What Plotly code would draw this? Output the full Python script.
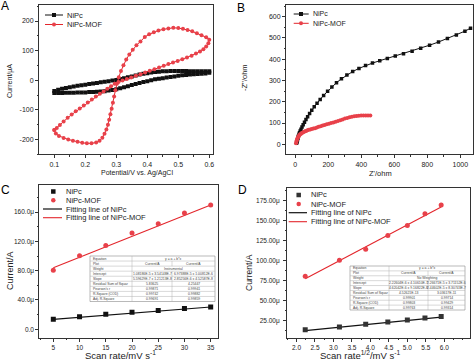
import plotly.graph_objects as go

W, H = 474, 361
FONT = "Liberation Sans, Arial, sans-serif"
INK = "#222222"
BLACK = "#111111"
RED = "#e3262c"
RED_M = "#e8414a"
GRAY_M = "#333333"

# ---------------- Panel A: cyclic voltammograms (V vs Ag/AgCl, uA) ----------------
cv_nipc_v = [0.1000, 0.1125, 0.1250, 0.1375, 0.1500, 0.1625, 0.1750, 0.1875, 0.2000, 0.2125,
             0.2250, 0.2375, 0.2500, 0.2625, 0.2750, 0.2875, 0.3000, 0.3125, 0.3250, 0.3375,
             0.3500, 0.3625, 0.3750, 0.3875, 0.4000, 0.4125, 0.4250, 0.4375, 0.4500, 0.4625,
             0.4750, 0.4875, 0.5000, 0.5125, 0.5250, 0.5375, 0.5500, 0.5625, 0.5750, 0.5875,
             0.6000,
             0.6000, 0.5875, 0.5750, 0.5625, 0.5500, 0.5375, 0.5250, 0.5125, 0.5000, 0.4875,
             0.4750, 0.4625, 0.4500, 0.4375, 0.4250, 0.4125, 0.4000, 0.3875, 0.3750, 0.3625,
             0.3500, 0.3375, 0.3250, 0.3125, 0.3000, 0.2875, 0.2750, 0.2625, 0.2500, 0.2375,
             0.2250, 0.2125, 0.2000, 0.1875, 0.1750, 0.1625, 0.1500, 0.1375, 0.1250, 0.1125,
             0.1000]
cv_nipc_i = [-36, -32, -29, -26, -24, -21, -19, -17, -15, -13,
             -11, -9, -7, -5, -3, -1, 1, 4, 7, 10,
             13, 16, 19, 22, 24, 26, 28, 29, 30, 30,
             31, 31, 31, 31, 31, 30, 30, 30, 30, 30,
             30,
             25, 23, 22, 21, 20, 19, 18, 17, 15, 13,
             11, 9, 7, 5, 3, 0, -3, -6, -9, -13,
             -16, -20, -24, -27, -30, -33, -35, -37, -38, -39,
             -40, -40, -41, -41, -41, -42, -42, -42, -43, -43,
             -43]

cv_mof_v = [0.100, 0.105, 0.115, 0.130, 0.145, 0.160, 0.175, 0.190, 0.205, 0.220,
            0.235, 0.246, 0.255, 0.262, 0.268, 0.273, 0.277, 0.281, 0.285, 0.289,
            0.293, 0.297, 0.302, 0.308, 0.315, 0.323, 0.332, 0.342, 0.353, 0.365,
            0.378, 0.392, 0.406, 0.421, 0.436, 0.452, 0.468, 0.484, 0.500, 0.515,
            0.530, 0.545, 0.560, 0.575, 0.590, 0.600,
            0.597, 0.590, 0.581, 0.570, 0.557, 0.543, 0.528, 0.513, 0.498, 0.483,
            0.468, 0.453, 0.438, 0.423, 0.408, 0.393, 0.378, 0.363, 0.348, 0.334,
            0.320, 0.307, 0.295, 0.283, 0.271, 0.259, 0.247, 0.234, 0.221, 0.208,
            0.195, 0.182, 0.169, 0.156, 0.143, 0.130, 0.118, 0.108, 0.100]
cv_mof_i = [-168, -180, -188, -195, -200, -204, -208, -211, -213, -213,
            -210, -204, -194, -181, -166, -150, -133, -115, -96, -76,
            -55, -34, -12, 10, 31, 51, 70, 87, 103, 118,
            131, 146, 155, 162, 168, 172, 175, 177, 176, 174,
            170, 165, 159, 152, 145, 137,
            125, 114, 105, 97, 90, 83, 77, 71, 65, 60,
            55, 49, 43, 37, 32, 26, 20, 15, 9, 4,
            -1, -6, -12, -20, -29, -38, -46, -55, -65, -75,
            -85, -95, -105, -116, -127, -139, -151, -161, -168]

# ---------------- Panel B: Nyquist plots (ohm) ----------------
eis_nipc_zre = [8, 10, 12, 14, 16, 18, 20, 23, 26, 30, 35, 41, 48, 56, 65, 75, 87, 100, 115, 132,
                151, 172, 196, 222, 250, 280, 313, 348, 386, 426, 468, 512, 558, 606, 656, 708,
                760, 814, 868, 922, 976, 1028, 1062]
eis_nipc_zim = [5, 10, 16, 22, 28, 34, 40, 47, 54, 62, 71, 81, 92, 104, 117, 130, 145, 160, 176, 193,
                211, 230, 250, 270, 290, 308, 326, 342, 357, 370, 382, 393, 404, 415, 426, 438,
                452, 466, 481, 497, 514, 532, 546]
eis_mof_zre = [5, 7, 9, 11, 13, 16, 19, 22, 26, 30, 35, 40, 46, 52, 59, 66, 74, 82, 91, 100,
               110, 120, 131, 142, 154, 166, 178, 191, 204, 217, 231, 245, 259, 273, 287, 301,
               315, 329, 343, 357, 371, 385, 399, 413, 427, 441, 455]
eis_mof_zim = [5, 12, 18, 23, 27, 32, 36, 40, 44, 47, 50, 53, 56, 58, 61, 63, 66, 68, 70, 72,
               74, 76, 79, 82, 85, 88, 91, 94, 97, 100, 103, 106, 109, 113, 117, 121,
               124, 127, 130, 132, 133, 134, 135, 135, 136, 136, 136]

# ---------------- Panels C, D: peak current vs scan rate (uA) ----------------
scan_rate = [5, 10, 15, 20, 25, 30, 35]
sqrt_scan_rate = [2.236, 3.162, 3.873, 4.472, 5.000, 5.477, 5.916]
cur_nipc = [13.6, 17.0, 20.6, 23.3, 25.8, 28.3, 30.4]
cur_mof = [80.5, 100.5, 114.3, 131.5, 144.0, 158.8, 169.8]

fitC_intercept = [10.8186, 69.7388]
fitC_slope = [0.559629, 2.85256]
fitD_intercept = [2.22604, 22.6671]
fitD_slope = [4.62042, 24.4602]

# tick labels
A_xticks = [0.1, 0.2, 0.3, 0.4, 0.5, 0.6]
A_xtext = ["0.1", "0.2", "0.3", "0.4", "0.5", "0.6"]
A_yticks = [-200, -100, 0, 100, 200]
A_ytext = ["-200", "-100", "0", "100", "200"]
B_xticks = [0, 200, 400, 600, 800, 1000]
B_yticks = [0, 100, 200, 300, 400, 500, 600]
C_xticks = [5, 10, 15, 20, 25, 30, 35]
C_yticks = [0, 40, 80, 120, 160]
C_ytext = ["0.0", "40.0μ", "80.0μ", "120.0μ", "160.0μ"]
D_xticks = [2.0, 2.5, 3.0, 3.5, 4.0, 4.5, 5.0, 5.5, 6.0]
D_xtext = ["2.0", "2.5", "3.0", "3.5", "4.0", "4.5", "5.0", "5.5", "6.0"]
D_yticks = [25, 50, 75, 100, 125, 150, 175]
D_ytext = ["25.00μ", "50.00μ", "75.00μ", "100.00μ", "125.00μ", "150.00μ", "175.00μ"]

# inset tables
table_rows = ["Equation", "Plot", "Weight", "Intercept", "Slope", "Residual Sum of Squar",
              "Pearson's r", "R-Square (COD)", "Adj. R-Square"]
tableC_col2 = ["y = a + b*x", "Current/A", "Instrumental", "1.08186E-5 ± 3.54148E-7",
               "5.59629E-7 ± 1.21213E-8", "5.83625", "0.99871", "0.99742", "0.99691"]
tableC_col3 = ["", "Current/A", "", "6.97388E-5 ± 1.00812E-6",
               "2.85256E-6 ± 4.52587E-8", "4.25447", "0.99941", "0.99882", "0.99859"]
tableD_col2 = ["y = a + b*x", "Current/A", "No Weighting", "2.22604E-6 ± 4.10610E-7",
               "4.62042E-6 ± 9.16822E-8", "4.52621E-13", "0.99901", "0.99803", "0.99763"]
tableD_col3 = ["", "Current/A", "", "2.26671E-5 ± 3.71152E-6",
               "2.44602E-5 ± 8.30743E-7", "3.03617E-11", "0.99714", "0.99429", "0.99314"]


def px(x):
    return x / W


def py(y):
    return 1 - y / H


fig = go.Figure()

# Panel A
fig.add_trace(go.Scatter(x=cv_nipc_v, y=cv_nipc_i, mode="lines+markers", name="NiPc",
                         line=dict(color=BLACK, width=1),
                         marker=dict(symbol="square", size=4, color=BLACK),
                         xaxis="x", yaxis="y", showlegend=False))
fig.add_trace(go.Scatter(x=cv_mof_v, y=cv_mof_i, mode="lines+markers", name="NiPc-MOF",
                         line=dict(color=RED, width=1),
                         marker=dict(symbol="circle", size=4, color=RED_M),
                         xaxis="x", yaxis="y", showlegend=False))
# Panel B
fig.add_trace(go.Scatter(x=eis_nipc_zre, y=eis_nipc_zim, mode="lines+markers", name="NiPc",
                         line=dict(color=BLACK, width=1),
                         marker=dict(symbol="square", size=3.5, color=BLACK),
                         xaxis="x2", yaxis="y2", showlegend=False))
fig.add_trace(go.Scatter(x=eis_mof_zre, y=eis_mof_zim, mode="lines+markers", name="NiPc-MOF",
                         line=dict(color=RED, width=1),
                         marker=dict(symbol="circle", size=4, color=RED_M),
                         xaxis="x2", yaxis="y2", showlegend=False))

# Panels C and D
for (xs, ints, slopes, xa, ya, kcol) in [(scan_rate, fitC_intercept, fitC_slope, "x3", "y3", BLACK),
                                          (sqrt_scan_rate, fitD_intercept, fitD_slope, "x4", "y4", GRAY_M)]:
    fit_n = [ints[0] + slopes[0] * v for v in xs]
    fit_m = [ints[1] + slopes[1] * v for v in xs]
    fig.add_trace(go.Scatter(x=xs, y=fit_n, mode="lines", name="Fitting line of NiPc",
                             line=dict(color=BLACK, width=1.2), xaxis=xa, yaxis=ya, showlegend=False))
    fig.add_trace(go.Scatter(x=xs, y=fit_m, mode="lines", name="Fitting line of NiPc-MOF",
                             line=dict(color=RED, width=1.1), xaxis=xa, yaxis=ya, showlegend=False))
    fig.add_trace(go.Scatter(x=xs, y=cur_nipc, mode="markers", name="NiPc",
                             marker=dict(symbol="square", size=5, color=kcol),
                             xaxis=xa, yaxis=ya, showlegend=False))
    fig.add_trace(go.Scatter(x=xs, y=cur_mof, mode="markers", name="NiPc-MOF",
                             marker=dict(symbol="circle", size=5, color=RED_M),
                             xaxis=xa, yaxis=ya, showlegend=False))


def axis(domain, rng, tickvals, ticktext, minor_dtick, minor_tick0, fsize, anchor, standoff=0):
    return dict(domain=domain, range=rng, anchor=anchor, tickmode="array", tickvals=tickvals,
                ticktext=ticktext, showline=True, linecolor="#333333", linewidth=1, mirror=True,
                ticks="outside", ticklen=3, tickwidth=1, tickcolor="#333333", showgrid=False,
                zeroline=False, fixedrange=True, ticklabelstandoff=standoff,
                tickfont=dict(family=FONT, size=fsize, color=INK),
                minor=dict(ticks="outside", ticklen=1.5, tickwidth=1, tickcolor="#333333",
                           tickmode="linear", tick0=minor_tick0, dtick=minor_dtick))


domA_x = [px(39), px(213)]
domB_x = [px(286), px(473)]
domAB_y = [py(154.3), py(5)]
domC_x = [px(39.3), px(218.3)]
domD_x = [px(287), px(470)]
domC_y = [py(337.7), py(185)]
domD_y = [py(337.7), py(188)]

fig.update_layout(
    width=W, height=H, margin=dict(l=0, r=0, t=0, b=0),
    paper_bgcolor="white", plot_bgcolor="white",
    font=dict(family=FONT, color=INK),
    showlegend=False,
    xaxis=axis(domA_x, [0.0506, 0.612], A_xticks, A_xtext, 0.05, 0.05, 7, "y"),
    yaxis=axis(domAB_y, [-250, 254], A_yticks, A_ytext, 50, -250, 7, "x"),
    xaxis2=axis(domB_x, [-56, 1077], B_xticks, [str(v) for v in B_xticks], 100, 0, 7, "y2"),
    yaxis2=axis(domAB_y, [-47, 655], B_yticks, [str(v) for v in B_yticks], 50, 0, 7, "x2"),
    xaxis3=axis(domC_x, [2.33, 36.45], C_xticks, [str(v) for v in C_xticks], 2.5, 2.5, 6.5, "y3"),
    yaxis3=axis(domC_y, [-11.5, 197], C_yticks, C_ytext, 20, 0, 6.5, "x3"),
    xaxis4=axis(domD_x, [1.743, 6.696], D_xticks, D_xtext, 0.25, 2.0, 6.5, "y4"),
    yaxis4=axis(domD_y, [3.75, 191], D_yticks, D_ytext, 12.5, 0, 6.5, "x4", standoff=2),
)

shapes = []
annotations = []


def text(x, y, s, size, anchor="center", angle=0, color=INK):
    annotations.append(dict(x=px(x), y=py(y), xref="paper", yref="paper", text=s, showarrow=False,
                            xanchor=anchor, yanchor="middle", textangle=angle,
                            font=dict(family=FONT, size=size, color=color)))


def hline(x0, x1, y, color, width):
    shapes.append(dict(type="line", xref="paper", yref="paper", x0=px(x0), x1=px(x1),
                       y0=py(y), y1=py(y), line=dict(color=color, width=width)))


def vline(x, y0, y1, color, width):
    shapes.append(dict(type="line", xref="paper", yref="paper", x0=px(x), x1=px(x),
                       y0=py(y0), y1=py(y1), line=dict(color=color, width=width)))


def marker(cx, cy, s, kind, color):
    shapes.append(dict(type="rect" if kind == "square" else "circle", xref="paper", yref="paper",
                       x0=px(cx - s / 2), x1=px(cx + s / 2), y0=py(cy + s / 2), y1=py(cy - s / 2),
                       fillcolor=color, line=dict(width=0)))


# Legends (drawn manually to match the compact originals)
for (lx0, lx1, mx, tx, rows, fs) in [(45, 63, 54, 65, (15, 24.5), 7.5), (293.7, 308.7, 301, 311, (14, 23.3), 7)]:
    hline(lx0, lx1, rows[0], BLACK, 1)
    marker(mx, rows[0], 4, "square", BLACK)
    text(tx, rows[0], "NiPc", fs, "left")
    hline(lx0, lx1, rows[1], RED, 1)
    marker(mx, rows[1], 4, "circle", RED_M)
    text(tx, rows[1], "NiPc-MOF", fs, "left")

for (lx0, lx1, mx, tx, rows, kcol) in [(43, 62, 53.3, 63.5, (191.5, 200.3, 209, 217.7), BLACK),
                                        (288.7, 307, 298.7, 308.5, (195, 204, 212.7, 221.7), GRAY_M)]:
    marker(mx, rows[0], 4.5, "square", kcol)
    text(tx, rows[0], "NiPc", 7.5, "left")
    marker(mx, rows[1], 4.5, "circle", RED_M)
    text(tx, rows[1], "NiPc-MOF", 7.5, "left")
    hline(lx0, lx1, rows[2], BLACK, 1.2)
    text(tx, rows[2], "Fitting line of NiPc", 7.5, "left")
    hline(lx0, lx1, rows[3], RED, 1.1)
    text(tx, rows[3], "Fitting line of NiPc-MOF", 7.5, "left")


# Inset tables
def table(x0, c1, c2, x1, y0, y1, col2, col3):
    n = len(table_rows)
    rh = (y1 - y0) / n
    shapes.append(dict(type="rect", xref="paper", yref="paper", x0=px(x0), x1=px(x1), y0=py(y1),
                       y1=py(y0), fillcolor="white", line=dict(color="#8a8a8a", width=0.6)))
    for i in range(1, n):
        hline(x0, x1, y0 + i * rh, "#b0b0b0", 0.5)
    vline(c1, y0, y1, "#b0b0b0", 0.5)
    for i in range(n):
        if i not in (0, 2):
            vline(c2, y0 + i * rh, y0 + (i + 1) * rh, "#b0b0b0", 0.5)
    for i in range(n):
        yc = y0 + (i + 0.5) * rh
        text(x0 + 1, yc, table_rows[i], 3.4, "left", color="#444444")
        if i in (0, 2):
            text((c1 + x1) / 2, yc, col2[i], 3.4, "center", color="#444444")
        else:
            text((c1 + c2) / 2, yc, col2[i], 3.4, "center", color="#444444")
            text((c2 + x1) / 2, yc, col3[i], 3.4, "center", color="#444444")


table(90, 132, 172, 215, 256, 301.5, tableC_col2, tableC_col3)
table(350, 389, 428, 465, 266, 310, tableD_col2, tableD_col3)

# Axis titles
text(137, 173, "Potential/V vs. Ag/AgCl", 7)
text(10, 81, "Current/μA", 7, angle=-90)
text(380, 173, "Z'/ohm", 7.5)
text(245, 78, "-Z''/ohm", 7.5, angle=-90)
text(120, 355, "Scan rate/mV s<sup>-1</sup>", 9.5)
text(10, 271, "Current/A", 9, angle=-90)
text(360, 355, "Scan rate<sup>1/2</sup>/mV s<sup>-1</sup>", 9.5)
text(249, 273, "Current/A", 8.5, angle=-90)

# Panel letters
text(4.5, 6, "A", 12, color="#000000")
text(241, 8, "B", 12, color="#000000")
text(5.5, 190.5, "C", 12, color="#000000")
text(242, 189.5, "D", 12, color="#000000")

fig.update_layout(shapes=shapes, annotations=annotations)
fig.write_html("out.html", config={"displayModeBar": False},
               post_script="document.body.style.margin='0px';document.body.style.padding='0px';")
